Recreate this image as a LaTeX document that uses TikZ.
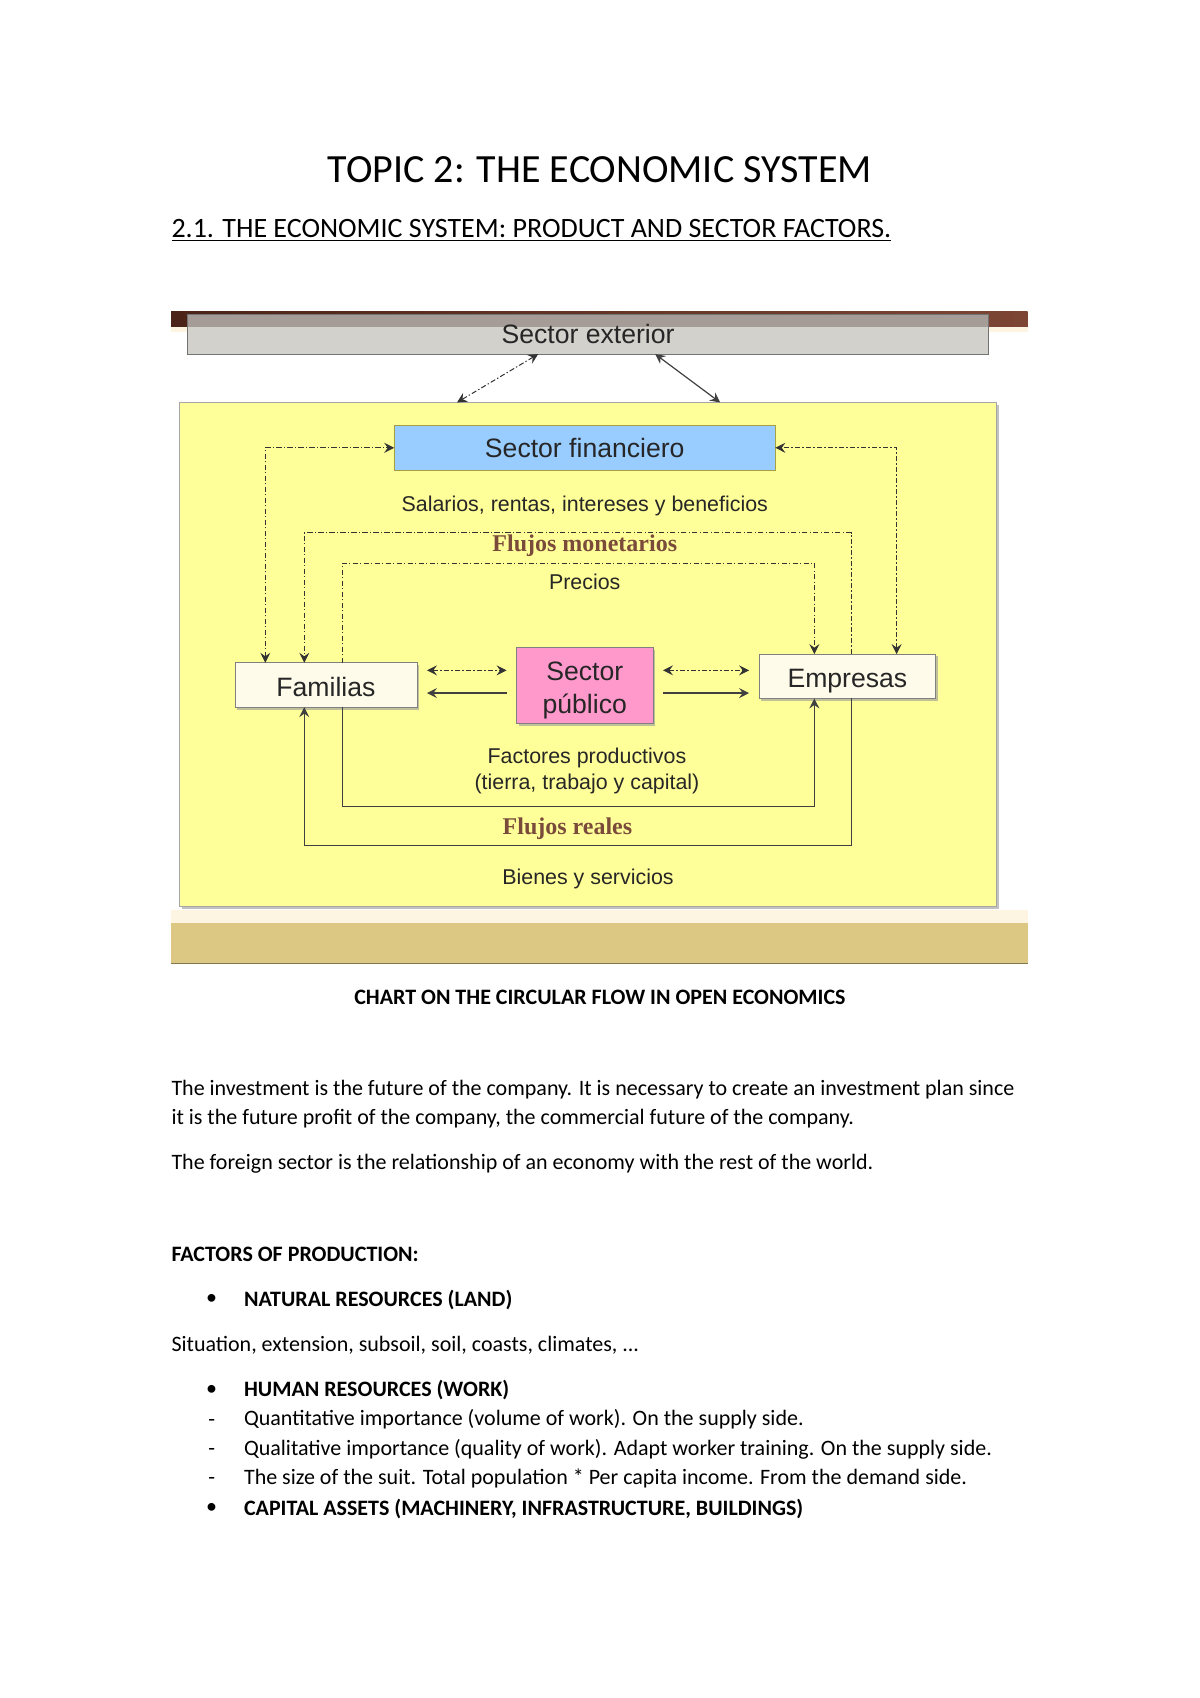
\documentclass[tikz,border=0pt]{standalone}
\usepackage{fontspec}
\setmainfont{Carlito}
\newfontfamily\arialfont{Liberation Sans}
\newfontfamily\timesfont{Liberation Serif}
\usepackage{xcolor}
\usepackage{tikz}
\usetikzlibrary{arrows.meta,positioning,shadows}
\definecolor{barL}{HTML}{4B2417}
\definecolor{barR}{HTML}{7D4634}
\definecolor{extgray}{HTML}{D3D1CC}
\definecolor{exttop}{HTML}{A59C98}
\definecolor{ecoyellow}{HTML}{FFFF99}
\definecolor{finblue}{HTML}{99CCFF}
\definecolor{sppink}{HTML}{FF99CC}
\definecolor{boxcream}{HTML}{FFFBEA}
\definecolor{bandcream}{HTML}{FDF5E2}
\definecolor{bandtan}{HTML}{DCC882}
\definecolor{flujo}{HTML}{7A4A3A}

\begin{document}
\begin{tikzpicture}[x=0.5415pt, y=-0.5415pt,
  >={Stealth[length=5pt, width=5pt, inset=1.8pt]},
  box/.style={draw=black!50, inner sep=0pt, outer sep=0pt, align=center, text=black!85, font=\arialfont\fontsize{13.3}{16.3}\selectfont},
  oneline/.style={text height=11.5pt, text depth=0pt},
  shadowed/.style={drop shadow={shadow xshift=1.2pt, shadow yshift=-1.2pt, fill=black!40, opacity=0.6}},
  lab/.style={font=\arialfont\fontsize{10.7}{13}\selectfont, align=center, text=black!85},
  flow/.style={font=\timesfont\bfseries\fontsize{12}{14}\selectfont, text=flujo},
  dd/.style={dash pattern=on 2.6pt off 1.1pt on 0.7pt off 1.1pt, line width=0.5pt, black!80},
  ln/.style={line width=0.6pt, black!75},
  gap/.style={shorten >=5pt, shorten <=5pt},
  txt/.style={anchor=west, inner sep=0pt, font=\fontsize{11}{13}\selectfont},
  hd/.style={txt, font=\bfseries\fontsize{11}{13}\selectfont}]
\useasboundingbox (0,0) rectangle (1108,1568);

% headings
\node[font=\fontsize{20}{24}\selectfont] (title) at (554,157) {TOPIC 2: THE ECONOMIC SYSTEM};
\node[txt, font=\fontsize{14}{17}\selectfont] (sub) at (158,213) {\underline{2.1. THE ECONOMIC SYSTEM: PRODUCT AND SECTOR FACTORS.}};

% slide background
\fill[left color=barL, right color=barR] (158,288) rectangle (949,302);
\fill[bandcream] (158,302) rectangle (949,307);
\fill[bandcream] (158,840) rectangle (949,852);
\fill[bandtan] (158,852) rectangle (949,890);
\draw[bandtan!60!black] (158,890) -- (949,890);

\node[box, draw=black!55, fill=extgray, minimum width=400.7pt, minimum height=20pt,
  path picture={\fill[exttop] (path picture bounding box.north west) rectangle ([yshift=-6.5pt]path picture bounding box.north east);}] (ext) at (543,308.5) {Sector exterior};
\node[draw=black!35, fill=ecoyellow, inner sep=0pt, minimum width=408.3pt, minimum height=251.8pt, shadowed] (eco) at (543,604.5) {};

\node[box, draw=yellow!60!black, fill=finblue, minimum width=190.6pt, minimum height=22.2pt] (fin) at (540,413.5) {Sector financiero};
\node[box, oneline, fill=boxcream, shadowed, minimum width=91pt, minimum height=22.2pt] (fam) at (301,632.5) {Familias};
\node[box, fill=sppink, shadowed, minimum width=68.2pt, minimum height=37.9pt] (sp) at (540,633) {\rule{0pt}{14.5pt}Sector\\público};
\node[box, oneline, fill=boxcream, shadowed, minimum width=88.3pt, minimum height=22.2pt] (emp) at (782.5,624.5) {Empresas};

\node[lab] (sal) at (540,467) {Salarios, rentas, intereses y beneficios};
\node[flow] (mon) at (540,504) {Flujos monetarios};
\node[lab] (pre) at (540,537) {Precios};
\node[lab] (fac) at (542,712) {Factores productivos\\(tierra, trabajo y capital)};
\node[flow] (rea) at (524,765) {Flujos reales};
\node[lab] (bie) at (543,812) {Bienes y servicios};

% outside
\draw[dd, <->] (ext.south -| 497,0) -- (eco.north -| 422,0);
\draw[ln, <->] (ext.south -| 605,0) -- (eco.north -| 665,0);

% money flows
\draw[dd, <->] (fam.north -| 245,0) |- (fin.west);
\draw[dd, <->] (emp.north -| 828,0) |- (fin.east);
\draw[dd, ->] (emp.north -| 786,0) |- (281,492) -- (fam.north -| 281,0);
\draw[dd, ->] (fam.north -| 316,0) |- (752,520) -- (emp.north -| 752,0);
\draw[dd, gap, <->] (fam.east |- 0,619) -- (sp.west |- 0,619);
\draw[dd, gap, <->] (sp.east |- 0,619) -- (emp.west |- 0,619);

% real flows
\draw[ln, gap, ->] (sp.west |- 0,640) -- (fam.east |- 0,640);
\draw[ln, gap, ->] (sp.east |- 0,640) -- (emp.west |- 0,640);
\draw[ln, ->] (fam.south -| 316,0) |- (752,745) -- (emp.south -| 752,0);
\draw[ln, ->] (emp.south -| 786,0) |- (281,781) -- (fam.south -| 281,0);

% text below
\node[font=\bfseries\fontsize{11}{13}\selectfont] (cap) at (554,921) {CHART ON THE CIRCULAR FLOW IN OPEN ECONOMICS};
\node[txt] (p1) at (158,1006) {The investment is the future of the company. It is necessary to create an investment plan since};
\node[txt] (p2) at (158,1033) {it is the future profit of the company, the commercial future of the company.};
\node[txt] (p3) at (158,1075) {The foreign sector is the relationship of an economy with the rest of the world.};
\node[hd] (fop) at (158,1158) {FACTORS OF PRODUCTION:};
\node[txt] (b1) at (190,1200) {\textbullet};
\node[hd] (land) at (225,1200) {NATURAL RESOURCES (LAND)};
\node[txt] (p4) at (158,1242) {Situation, extension, subsoil, soil, coasts, climates, ...};
\node[txt] (b2) at (190,1284) {\textbullet};
\node[hd] (work) at (225,1284) {HUMAN RESOURCES (WORK)};
\node[txt] (d1) at (192,1311) {\vphantom{(}-};
\node[txt] (q1) at (225,1311) {Quantitative importance (volume of work). On the supply side.};
\node[txt] (d2) at (192,1338) {\vphantom{(}-};
\node[txt] (q2) at (225,1338) {Qualitative importance (quality of work). Adapt worker training. On the supply side.};
\node[txt] (d3) at (192,1365) {\vphantom{(}-};
\node[txt] (q3) at (225,1365) {The size of the suit. Total population * Per capita income. From the demand side.};
\node[txt] (b3) at (190,1393) {\textbullet};
\node[hd] (cap2) at (225,1393) {CAPITAL ASSETS (MACHINERY, INFRASTRUCTURE, BUILDINGS)};
\end{tikzpicture}
\end{document}
